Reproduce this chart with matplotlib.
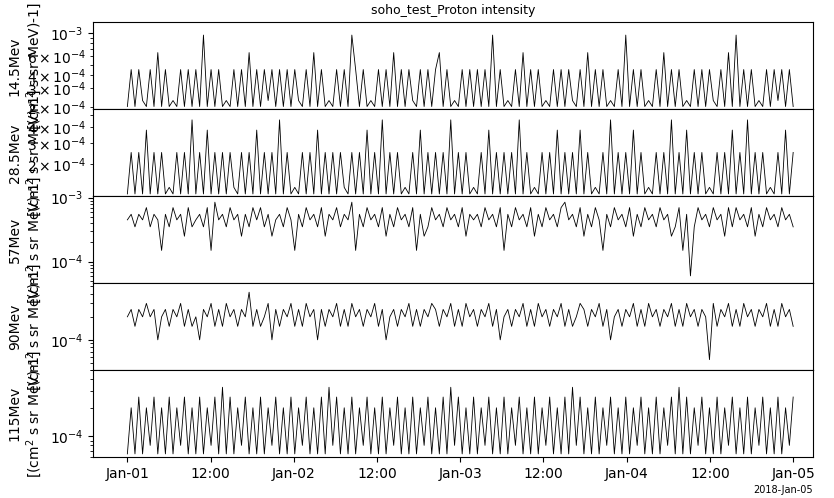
import numpy as np
import matplotlib
matplotlib.use("Agg")
import matplotlib.pyplot as plt
import matplotlib.dates as mdates
import matplotlib.ticker as mticker

# intensity levels per channel, coded as digit strings
channels = ["14.5Mev", "28.5Mev", "57Mev", "90Mev", "115Mev"]

codes_14 = ("0202102030201020202040202010202030202120202021020302010202042020102020302021020202302010"
            "2020202040201020302020102020210203020201020402020102030202010202021020304020201020212020")
levels_14 = [2.02e-4, 2.3e-4, 4.5e-4, 6.5e-4, 9.5e-4]

codes_28 = ("0202030202010202040203020202102020302020402010202030202021020203020402020102030202020402"
            "0201020302020204020102020302020302010204020203020102020402030202010202030204020201020302")
levels_28 = [1.15e-4, 1.3e-4, 2.5e-4, 3.8e-4, 4.6e-4]

codes_57 = ("4535463541536452634536174536452536463524536415364536254635471536453625364536152364536453"
            "6254536453615364536253645367453625364153645362536453645236150364536452636453625364536453")
levels_57 = [6e-5, 1.5e-4, 2.5e-4, 3.5e-4, 4.5e-4, 5.5e-4, 7e-4, 8.5e-4]

codes_90 = ("3424353413424352423143524253424362423514243524253414243524253424352413424352424354243524"
            "2534243524134243524253424352423542435241342435242534243524253424305243524253424352425342")
levels_90 = [5.5e-5, 1.0e-4, 1.5e-4, 2.0e-4, 2.5e-4, 3.0e-4, 4.2e-4]

codes_115 = ("0405041504050415040504150605041504050415040504150405061504050415040504150405041504050615"
             "0405041504050415040504150405061504050415040504150405041506050415040504150405041504050415")
levels_115 = [6.5e-5, 8e-5, 1.0e-4, 1.4e-4, 2.0e-4, 2.6e-4, 3.3e-4]

all_codes = [codes_14, codes_28, codes_57, codes_90, codes_115]
all_levels = [levels_14, levels_28, levels_57, levels_90, levels_115]
ylims = [(1.9e-4, 1.25e-3), (1.1e-4, 5.6e-4), (4.6e-5, 1.05e-3), (4.0e-5, 5.5e-4), (6.0e-5, 5.0e-4)]

t0 = mdates.date2num(np.datetime64("2018-01-01T00:00"))
t1 = mdates.date2num(np.datetime64("2018-01-05T00:00"))

fig, axes = plt.subplots(5, 1, sharex=True, figsize=(8.34, 4.98), dpi=100)
fig.subplots_adjust(left=0.112, right=0.975, top=0.955, bottom=0.082, hspace=0)

for i, (ax, name, codes, levels, lim) in enumerate(zip(axes, channels, all_codes, all_levels, ylims)):
    vals = np.array([levels[int(c)] for c in codes])
    t = np.linspace(t0, t1, len(vals))
    ax.plot(t, vals, color="black", lw=0.6)
    ax.xaxis_date()
    ax.set_yscale("log")
    ax.set_ylim(*lim)
    if i >= 2:
        ax.yaxis.set_minor_formatter(mticker.NullFormatter())
    ax.set_ylabel(name + "\n[(cm$^2$ s sr MeV)-1]")
    ax.yaxis.set_label_coords(-0.068, 0.5)

axes[0].set_title("soho_test_Proton intensity", fontsize=9)
loc = mdates.AutoDateLocator()
axes[-1].xaxis.set_major_locator(mdates.HourLocator(byhour=[0, 12]))
axes[-1].xaxis.set_major_formatter(mdates.ConciseDateFormatter(loc))
axes[-1].set_xlim(t0 - 0.204, t1 + 0.12)
axes[-1].xaxis.get_offset_text().set_fontsize(7)

fig.savefig("out.png")
